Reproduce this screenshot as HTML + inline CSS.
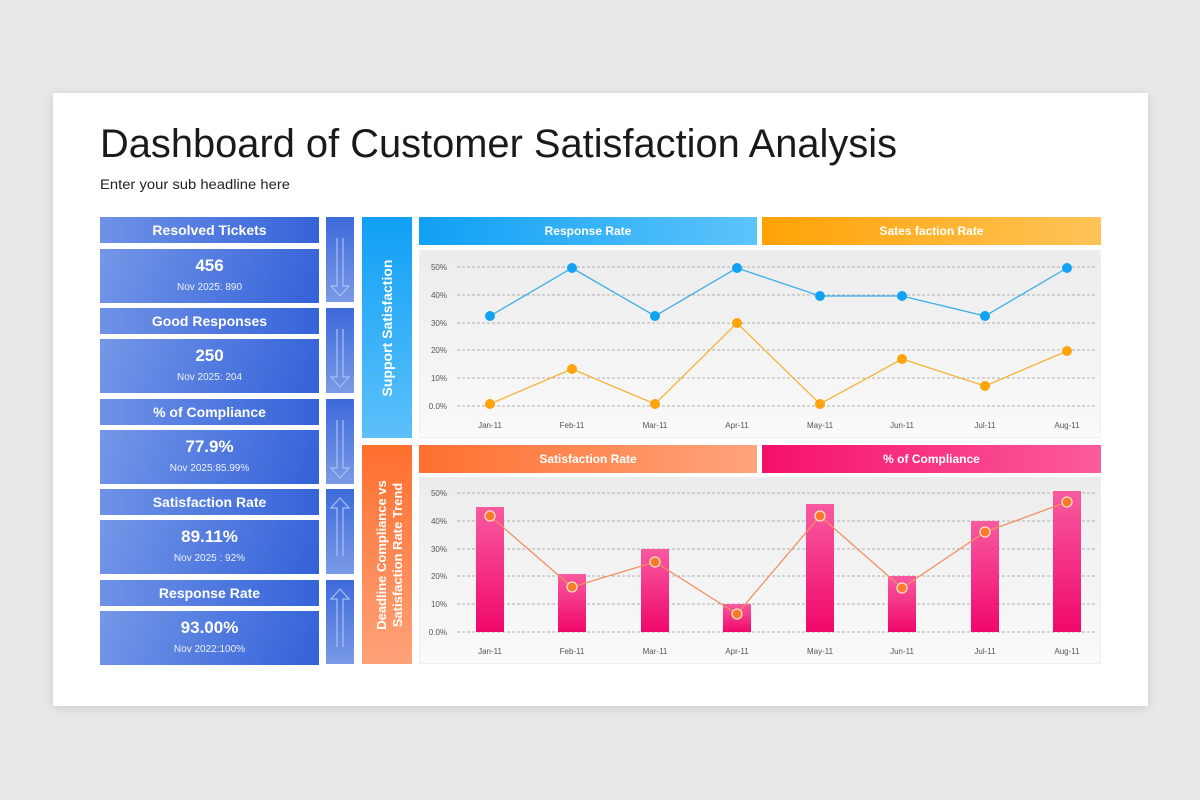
<!DOCTYPE html>
<html><head><meta charset="utf-8"><style>
*{margin:0;padding:0;box-sizing:border-box}
body{width:1200px;height:800px;background:#e9e7e8;position:relative;overflow:hidden;font-family:"Liberation Sans",sans-serif}
.card{position:absolute;left:53px;top:93px;width:1095px;height:613px;background:#fff;box-shadow:0 2px 10px rgba(0,0,0,.12)}
.a{position:absolute}
.h{left:100px;width:219px;height:26px;background:linear-gradient(90deg,#6f92e6,#3563d9);color:#fff;font-weight:bold;font-size:14px;text-align:center;line-height:26px}
.v{left:100px;width:219px;height:54px;background:linear-gradient(110deg,#7597e8,#3261d8);color:#fff;text-align:center}
.v b{display:block;font-size:17px;margin-top:7px}
.v span{display:block;font-size:10px;margin-top:6px;opacity:.9}
.ar{left:326px;width:28px;background:linear-gradient(180deg,#3d69da,#7a9ae6)}
.tab{height:28px;color:#fff;font-weight:bold;font-size:12px;text-align:center;line-height:28px}
</style></head><body>
<div class="card"></div>
<svg class="a" style="left:0;top:0" width="1200" height="800">
<text x="100" y="157" font-size="40" fill="#1a1a1a" textLength="797" lengthAdjust="spacingAndGlyphs" font-family="Liberation Sans">Dashboard of Customer Satisfaction Analysis</text>
<text x="100" y="189" font-size="14" fill="#222" textLength="190" lengthAdjust="spacingAndGlyphs" font-family="Liberation Sans">Enter your sub headline here</text>
</svg>
<div class="a h" style="top:217px">Resolved Tickets</div>
<div class="a v" style="top:249px"><b>456</b><span>Nov 2025: 890</span></div>
<div class="a h" style="top:308px">Good Responses</div>
<div class="a v" style="top:339px"><b>250</b><span>Nov 2025: 204</span></div>
<div class="a h" style="top:399px">% of Compliance</div>
<div class="a v" style="top:430px"><b>77.9%</b><span>Nov 2025:85.99%</span></div>
<div class="a h" style="top:489px">Satisfaction Rate</div>
<div class="a v" style="top:520px"><b>89.11%</b><span>Nov 2025 : 92%</span></div>
<div class="a h" style="top:580px">Response Rate</div>
<div class="a v" style="top:611px"><b>93.00%</b><span>Nov 2022:100%</span></div>
<div class="a ar" style="top:217px;height:85px"></div>
<div class="a ar" style="top:308px;height:85px"></div>
<div class="a ar" style="top:399px;height:85px"></div>
<div class="a ar" style="top:489px;height:85px"></div>
<div class="a ar" style="top:580px;height:84px"></div>
<div class="a" style="left:362px;top:217px;width:50px;height:221px;background:linear-gradient(180deg,#10a0f5,#5cc0fb)"></div>
<div class="a" style="left:362px;top:445px;width:50px;height:219px;background:linear-gradient(180deg,#ff6f2e,#ffa27a)"></div>
<div class="a tab" style="left:419px;top:217px;width:338px;background:linear-gradient(90deg,#10a0f5,#5cc4fb)">Response Rate</div>
<div class="a tab" style="left:762px;top:217px;width:339px;background:linear-gradient(90deg,#ffa206,#ffc458)">Sates faction Rate</div>
<div class="a tab" style="left:419px;top:445px;width:338px;background:linear-gradient(90deg,#ff7030,#ffa47c)">Satisfaction Rate</div>
<div class="a tab" style="left:762px;top:445px;width:339px;background:linear-gradient(90deg,#f5106a,#fb5c9c)">% of Compliance</div>
<div class="a" style="left:419px;top:250px;width:682px;height:188px;background:linear-gradient(180deg,#ececec,#fafafa);border:1px solid #eee"></div>
<div class="a" style="left:419px;top:477px;width:682px;height:187px;background:linear-gradient(180deg,#ececec,#fafafa);border:1px solid #eee"></div>
<svg class="a" style="left:0;top:0" width="1200" height="800" font-family="Liberation Sans">
<defs>
<linearGradient id="pk" x1="0" y1="0" x2="0" y2="1"><stop offset="0" stop-color="#f85aa0"/><stop offset="1" stop-color="#f0086a"/></linearGradient>
<g id="dn" fill="none" stroke="#a9c0f2" stroke-width="1.2"><path d="M-3 -38 V10 H-9 L0 20 L9 10 H3 V-38"/></g>
<g id="up" fill="none" stroke="#a9c0f2" stroke-width="1.2"><path d="M-3 38 V-10 H-9 L0 -20 L9 -10 H3 V38"/></g>
</defs>
<use href="#dn" x="340" y="276"/><use href="#dn" x="340" y="367"/><use href="#dn" x="340" y="458"/>
<use href="#up" x="340" y="518"/><use href="#up" x="340" y="609"/>
<text transform="translate(392,328) rotate(-90)" text-anchor="middle" font-size="14" font-weight="bold" fill="#fff">Support Satisfaction</text>
<text transform="translate(386,555) rotate(-90)" text-anchor="middle" font-size="13" font-weight="bold" fill="#fff">Deadline Compliance vs</text>
<text transform="translate(402,555) rotate(-90)" text-anchor="middle" font-size="13" font-weight="bold" fill="#fff">Satisfaction Rate Trend</text>
<g stroke="#999" stroke-dasharray="3,2" stroke-width="0.8">
<line x1="457" x2="1095" y1="267" y2="267"/><line x1="457" x2="1095" y1="295" y2="295"/><line x1="457" x2="1095" y1="323" y2="323"/><line x1="457" x2="1095" y1="350" y2="350"/><line x1="457" x2="1095" y1="378" y2="378"/><line x1="457" x2="1095" y1="406" y2="406"/>
<line x1="457" x2="1095" y1="493" y2="493"/><line x1="457" x2="1095" y1="521" y2="521"/><line x1="457" x2="1095" y1="549" y2="549"/><line x1="457" x2="1095" y1="576" y2="576"/><line x1="457" x2="1095" y1="604" y2="604"/><line x1="457" x2="1095" y1="632" y2="632"/>
</g>
<g font-size="8" fill="#555" text-anchor="end">
<text x="447" y="270">50%</text><text x="447" y="298">40%</text><text x="447" y="326">30%</text><text x="447" y="353">20%</text><text x="447" y="381">10%</text><text x="447" y="409">0.0%</text>
<text x="447" y="496">50%</text><text x="447" y="524">40%</text><text x="447" y="552">30%</text><text x="447" y="579">20%</text><text x="447" y="607">10%</text><text x="447" y="635">0.0%</text>
</g>
<g font-size="8" fill="#555" text-anchor="middle">
<text x="490" y="428">Jan-11</text><text x="572" y="428">Feb-11</text><text x="655" y="428">Mar-11</text><text x="737" y="428">Apr-11</text><text x="820" y="428">May-11</text><text x="902" y="428">Jun-11</text><text x="985" y="428">Jul-11</text><text x="1067" y="428">Aug-11</text>
<text x="490" y="654">Jan-11</text><text x="572" y="654">Feb-11</text><text x="655" y="654">Mar-11</text><text x="737" y="654">Apr-11</text><text x="820" y="654">May-11</text><text x="902" y="654">Jun-11</text><text x="985" y="654">Jul-11</text><text x="1067" y="654">Aug-11</text>
</g>
<polyline fill="none" stroke="#3aaeea" stroke-width="1.3" points="490,316 572,268 655,316 737,268 820,296 902,296 985,316 1067,268"/>
<g fill="#12a2f2"><circle cx="490" cy="316" r="5"/><circle cx="572" cy="268" r="5"/><circle cx="655" cy="316" r="5"/><circle cx="737" cy="268" r="5"/><circle cx="820" cy="296" r="5"/><circle cx="902" cy="296" r="5"/><circle cx="985" cy="316" r="5"/><circle cx="1067" cy="268" r="5"/></g>
<polyline fill="none" stroke="#f7b23a" stroke-width="1.3" points="490,404 572,369 655,404 737,323 820,404 902,359 985,386 1067,351"/>
<g fill="#ffa30a"><circle cx="490" cy="404" r="5"/><circle cx="572" cy="369" r="5"/><circle cx="655" cy="404" r="5"/><circle cx="737" cy="323" r="5"/><circle cx="820" cy="404" r="5"/><circle cx="902" cy="359" r="5"/><circle cx="985" cy="386" r="5"/><circle cx="1067" cy="351" r="5"/></g>
<g fill="url(#pk)">
<rect x="476" y="507" width="28" height="125"/><rect x="558" y="574" width="28" height="58"/><rect x="641" y="549" width="28" height="83"/><rect x="723" y="604" width="28" height="28"/><rect x="806" y="504" width="28" height="128"/><rect x="888" y="576" width="28" height="56"/><rect x="971" y="521" width="28" height="111"/><rect x="1053" y="491" width="28" height="141"/>
</g>
<polyline fill="none" stroke="#f39060" stroke-width="1.3" points="490,516 572,587 655,562 737,614 820,516 902,588 985,532 1067,502"/>
<g fill="#fb7a2a" stroke="#ffe0cc" stroke-width="1.3"><circle cx="490" cy="516" r="5"/><circle cx="572" cy="587" r="5"/><circle cx="655" cy="562" r="5"/><circle cx="737" cy="614" r="5"/><circle cx="820" cy="516" r="5"/><circle cx="902" cy="588" r="5"/><circle cx="985" cy="532" r="5"/><circle cx="1067" cy="502" r="5"/></g>
</svg>
</body></html>
